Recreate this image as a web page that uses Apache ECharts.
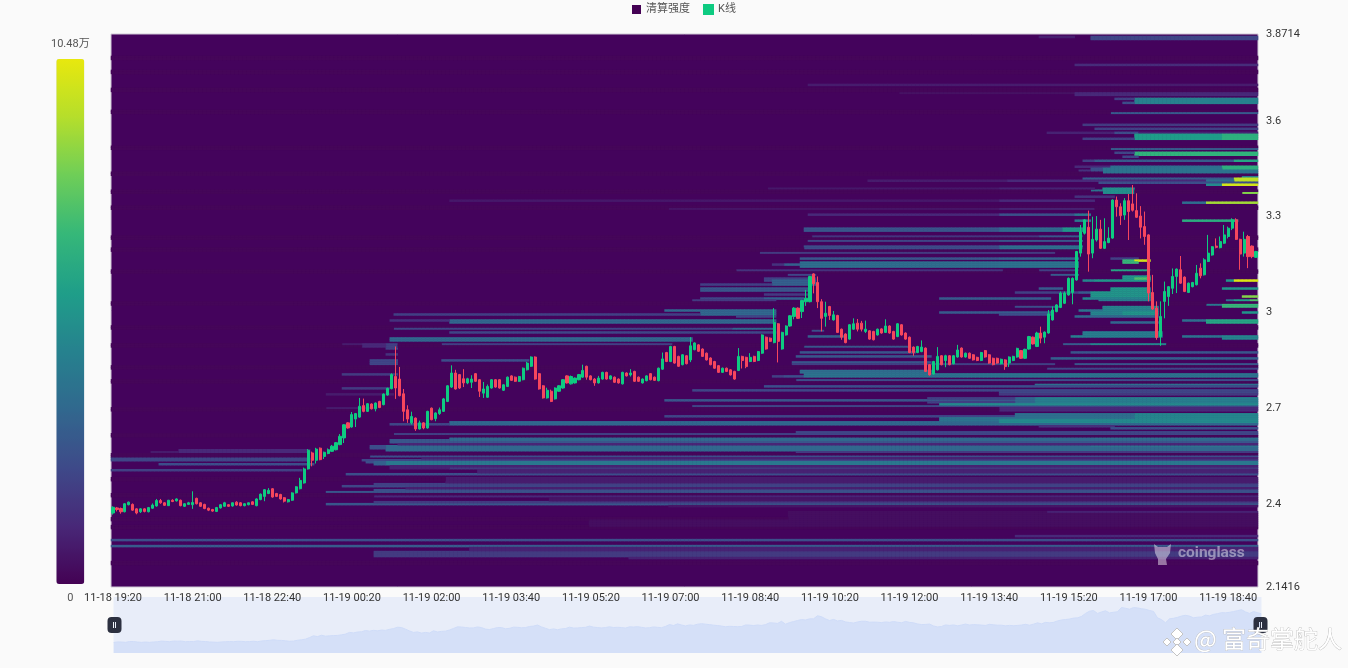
<!DOCTYPE html>
<html><head><meta charset="utf-8">
<style>html,body{margin:0;padding:0;background:#fafafa}#c{width:1348px;height:668px}</style>
<script src="https://cdn.jsdelivr.net/npm/echarts@6/dist/echarts.min.js"></script>
</head><body><div id="c"></div>
<script>
const PRICE_MIN = 2.1416, PRICE_MAX = 3.8714, PRICE_STEP = 0.00625, MAX_VALUE = 104800;
const priceLabels = [2.1416, 2.4, 2.7, 3, 3.3, 3.6, 3.8714];
const viridis = ['#440154','#482878','#3e4a89','#31688e','#26828e','#1f9e89','#35b779','#6ece58','#b5de2b','#e8e80e'];
const START = {month:11, day:18, hour:19, minute:20}, CANDLE_MINUTES = 5;

// [open, close, low, high]
const candles = [
[2.373,2.391,2.368,2.394],[2.389,2.384,2.378,2.392],[2.387,2.377,2.371,2.390],[2.377,2.402,2.375,2.404],[2.399,2.407,2.397,2.409],[2.400,2.382,2.380,2.403],[2.386,2.373,2.369,2.388],[2.377,2.386,2.373,2.388],[2.386,2.378,2.375,2.388],[2.377,2.390,2.375,2.392],
[2.388,2.398,2.386,2.403],[2.395,2.412,2.393,2.417],[2.412,2.405,2.402,2.417],[2.405,2.397,2.395,2.407],[2.396,2.413,2.395,2.414],[2.413,2.409,2.407,2.416],[2.411,2.417,2.409,2.419],[2.413,2.396,2.394,2.415],[2.394,2.402,2.392,2.404],[2.400,2.405,2.398,2.408],
[2.399,2.406,2.386,2.441],[2.419,2.402,2.400,2.421],[2.405,2.394,2.392,2.407],[2.400,2.387,2.385,2.402],[2.388,2.382,2.379,2.390],[2.384,2.379,2.377,2.386],[2.378,2.390,2.376,2.392],[2.389,2.399,2.387,2.401],[2.394,2.405,2.392,2.408],[2.399,2.394,2.392,2.401],
[2.395,2.405,2.393,2.406],[2.407,2.398,2.396,2.410],[2.405,2.396,2.394,2.407],[2.396,2.402,2.394,2.404],[2.399,2.405,2.397,2.406],[2.408,2.400,2.398,2.410],[2.396,2.417,2.394,2.419],[2.415,2.432,2.413,2.434],[2.425,2.446,2.410,2.448],[2.434,2.444,2.432,2.451],
[2.449,2.423,2.421,2.451],[2.434,2.425,2.423,2.436],[2.431,2.417,2.415,2.433],[2.421,2.410,2.406,2.423],[2.408,2.415,2.406,2.417],[2.413,2.436,2.411,2.438],[2.436,2.455,2.434,2.457],[2.449,2.475,2.447,2.483],[2.467,2.511,2.465,2.515],[2.511,2.569,2.509,2.573],
[2.561,2.538,2.519,2.565],[2.538,2.573,2.528,2.577],[2.576,2.540,2.538,2.578],[2.550,2.563,2.542,2.565],[2.559,2.571,2.557,2.575],[2.566,2.582,2.564,2.586],[2.571,2.593,2.569,2.595],[2.587,2.613,2.585,2.620],[2.608,2.649,2.592,2.651],[2.655,2.639,2.637,2.657],
[2.642,2.681,2.640,2.689],[2.667,2.684,2.642,2.686],[2.673,2.707,2.671,2.733],[2.709,2.691,2.688,2.731],[2.691,2.715,2.689,2.717],[2.714,2.699,2.697,2.716],[2.699,2.717,2.691,2.719],[2.722,2.703,2.701,2.724],[2.712,2.745,2.710,2.747],[2.742,2.763,2.740,2.765],
[2.762,2.806,2.760,2.810],[2.800,2.764,2.730,2.894],[2.792,2.740,2.738,2.830],[2.746,2.691,2.660,2.761],[2.696,2.667,2.655,2.710],[2.655,2.675,2.650,2.690],[2.670,2.636,2.630,2.672],[2.636,2.655,2.634,2.662],[2.655,2.639,2.635,2.657],[2.639,2.691,2.637,2.693],
[2.701,2.665,2.663,2.703],[2.668,2.686,2.660,2.688],[2.684,2.696,2.680,2.703],[2.691,2.730,2.689,2.733],[2.722,2.771,2.720,2.773],[2.767,2.811,2.764,2.835],[2.811,2.761,2.759,2.821],[2.806,2.764,2.761,2.808],[2.793,2.780,2.767,2.823],[2.780,2.793,2.776,2.796],
[2.782,2.792,2.764,2.804],[2.809,2.785,2.783,2.811],[2.790,2.754,2.736,2.792],[2.748,2.761,2.733,2.783],[2.735,2.769,2.733,2.775],[2.764,2.790,2.762,2.792],[2.790,2.767,2.765,2.792],[2.790,2.764,2.762,2.792],[2.757,2.774,2.755,2.776],[2.769,2.798,2.767,2.800],
[2.802,2.788,2.786,2.804],[2.798,2.785,2.783,2.800],[2.785,2.800,2.783,2.802],[2.790,2.826,2.788,2.828],[2.821,2.842,2.819,2.846],[2.832,2.861,2.830,2.863],[2.861,2.792,2.790,2.863],[2.809,2.761,2.759,2.811],[2.771,2.733,2.731,2.773],[2.733,2.757,2.731,2.765],
[2.754,2.722,2.720,2.759],[2.730,2.764,2.728,2.766],[2.754,2.771,2.752,2.773],[2.764,2.790,2.762,2.792],[2.802,2.780,2.778,2.804],[2.777,2.800,2.775,2.803],[2.780,2.795,2.778,2.797],[2.790,2.806,2.788,2.808],[2.798,2.819,2.796,2.837],[2.832,2.798,2.790,2.834],
[2.802,2.790,2.788,2.804],[2.792,2.780,2.771,2.795],[2.780,2.795,2.778,2.802],[2.792,2.813,2.790,2.815],[2.813,2.792,2.790,2.815],[2.792,2.802,2.790,2.804],[2.798,2.782,2.780,2.800],[2.792,2.780,2.778,2.794],[2.777,2.813,2.775,2.815],[2.811,2.802,2.800,2.813],
[2.805,2.811,2.800,2.823],[2.816,2.785,2.783,2.818],[2.798,2.785,2.783,2.800],[2.780,2.792,2.778,2.794],[2.787,2.802,2.785,2.804],[2.809,2.790,2.788,2.811],[2.798,2.788,2.786,2.800],[2.787,2.826,2.785,2.828],[2.823,2.855,2.821,2.875],[2.875,2.847,2.845,2.877],
[2.847,2.894,2.845,2.896],[2.894,2.842,2.840,2.896],[2.863,2.832,2.830,2.865],[2.837,2.868,2.835,2.870],[2.865,2.840,2.838,2.867],[2.852,2.896,2.845,2.923],[2.884,2.905,2.882,2.907],[2.899,2.879,2.877,2.901],[2.886,2.863,2.861,2.888],[2.873,2.852,2.850,2.875],
[2.858,2.837,2.835,2.860],[2.847,2.826,2.824,2.849],[2.834,2.813,2.811,2.836],[2.813,2.826,2.811,2.828],[2.826,2.816,2.814,2.828],[2.821,2.805,2.803,2.823],[2.816,2.792,2.790,2.818],[2.819,2.863,2.817,2.889],[2.863,2.850,2.825,2.865],[2.860,2.831,2.826,2.862],
[2.847,2.860,2.845,2.873],[2.863,2.847,2.845,2.865],[2.850,2.878,2.848,2.880],[2.873,2.930,2.871,2.932],[2.923,2.886,2.884,2.925],[2.920,2.910,2.908,2.922],[2.906,2.969,2.904,3.014],[2.965,2.910,2.844,2.967],[2.886,2.938,2.884,2.940],[2.930,2.958,2.928,2.960],
[2.958,2.990,2.956,2.992],[2.988,3.014,2.979,3.017],[3.014,2.982,2.980,3.016],[3.003,3.038,2.983,3.040],[3.034,3.045,3.021,3.071],[3.034,3.113,3.032,3.115],[3.121,3.090,3.060,3.123],[3.094,3.034,3.014,3.113],[3.034,2.982,2.941,3.042],[2.988,2.998,2.956,3.034],
[3.019,2.991,2.977,3.021],[2.977,2.993,2.975,3.005],[2.991,2.938,2.936,2.993],[2.948,2.923,2.915,2.950],[2.933,2.906,2.904,2.935],[2.917,2.962,2.915,2.964],[2.948,2.965,2.946,2.982],[2.967,2.948,2.941,2.980],[2.967,2.948,2.941,2.974],[2.941,2.948,2.936,2.975],
[2.943,2.917,2.915,2.945],[2.941,2.915,2.913,2.943],[2.930,2.948,2.928,2.950],[2.949,2.936,2.934,2.951],[2.938,2.958,2.936,2.979],[2.958,2.936,2.934,2.960],[2.941,2.917,2.915,2.943],[2.925,2.965,2.923,2.967],[2.962,2.930,2.928,2.964],[2.936,2.917,2.915,2.938],
[2.923,2.875,2.873,2.925],[2.892,2.875,2.865,2.894],[2.875,2.894,2.873,2.896],[2.878,2.892,2.876,2.913],[2.889,2.816,2.814,2.891],[2.837,2.805,2.803,2.839],[2.808,2.847,2.806,2.849],[2.821,2.863,2.819,2.892],[2.865,2.837,2.835,2.867],[2.850,2.865,2.829,2.868],
[2.865,2.837,2.835,2.867],[2.840,2.865,2.838,2.867],[2.861,2.883,2.859,2.899],[2.889,2.861,2.859,2.891],[2.861,2.873,2.859,2.875],[2.873,2.857,2.855,2.875],[2.868,2.852,2.850,2.870],[2.860,2.850,2.848,2.862],[2.850,2.875,2.848,2.877],[2.881,2.861,2.859,2.883],
[2.868,2.842,2.840,2.870],[2.857,2.837,2.835,2.859],[2.857,2.842,2.840,2.859],[2.840,2.854,2.838,2.856],[2.852,2.831,2.821,2.854],[2.842,2.861,2.830,2.863],[2.850,2.863,2.848,2.865],[2.861,2.888,2.859,2.890],[2.881,2.857,2.855,2.883],[2.857,2.885,2.855,2.887],
[2.886,2.925,2.884,2.927],[2.923,2.902,2.900,2.925],[2.894,2.936,2.892,2.940],[2.936,2.920,2.904,2.956],[2.923,2.939,2.904,2.941],[2.936,2.996,2.934,3.008],[2.977,3.008,2.975,3.019],[3.003,3.024,3.001,3.026],[3.016,3.061,3.014,3.066],[3.029,3.061,3.027,3.066],
[3.055,3.107,3.053,3.110],[3.063,3.107,3.026,3.110],[3.102,3.191,3.100,3.193],[3.186,3.253,3.175,3.274],[3.248,3.290,3.244,3.292],[3.267,3.183,3.128,3.319],[3.186,3.229,3.170,3.300],[3.227,3.261,3.222,3.302],[3.261,3.201,3.199,3.290],[3.201,3.222,3.199,3.295],
[3.219,3.233,3.217,3.267],[3.233,3.352,3.231,3.354],[3.352,3.331,3.300,3.363],[3.331,3.303,3.274,3.342],[3.305,3.350,3.290,3.358],[3.350,3.316,3.227,3.371],[3.340,3.320,3.316,3.399],[3.319,3.298,3.296,3.373],[3.302,3.267,3.232,3.333],[3.269,3.238,3.212,3.316],
[3.243,3.061,3.035,3.245],[3.063,3.011,3.008,3.118],[3.014,2.922,2.915,3.035],[2.925,2.988,2.896,3.035],[3.035,3.066,2.982,3.097],[3.050,3.081,3.021,3.083],[3.076,3.113,3.058,3.138],[3.113,3.136,3.061,3.138],[3.134,3.092,3.090,3.177],[3.111,3.066,3.064,3.113],
[3.063,3.092,3.061,3.094],[3.081,3.094,3.079,3.096],[3.087,3.123,3.085,3.149],[3.139,3.115,3.107,3.154],[3.118,3.165,3.116,3.170],[3.160,3.186,3.158,3.243],[3.180,3.206,3.178,3.208],[3.208,3.204,3.201,3.232],[3.203,3.222,3.201,3.238],[3.217,3.243,3.215,3.274],
[3.238,3.264,3.232,3.269],[3.264,3.290,3.258,3.295],[3.290,3.229,3.227,3.295],[3.229,3.183,3.134,3.231],[3.186,3.229,3.175,3.253],[3.238,3.175,3.139,3.243],[3.208,3.175,3.170,3.210],[3.173,3.191,3.171,3.193]
];

// Liquidation bands: [price, fromCandle, toCandle, value, priceLevelsDown]
const upperBands = [
[3.865,233,241,9000],[3.865,246,287,22000,2],[3.775,242,287,13000],[3.715,175,287,8000],[3.690,198,242,5000],[3.690,242,287,12000,2],
[3.671,257,287,46000,3],[3.671,252,257,20000],[3.659,254,257,25000],[3.628,251,287,30000],[3.590,244,287,18000],[3.578,247,287,20000],
[3.562,235,287,10000],[3.559,257,287,58000,3],[3.559,279,287,66000,3],[3.562,252,257,24000],[3.546,244,257,20000],[3.515,251,287,30000],
[3.503,257,287,68000,2],[3.503,252,257,22000],[3.490,254,257,22000],[3.478,244,287,20000],[3.478,282,287,62000],[3.474,247,287,30000],
[3.460,242,287,12000],[3.460,251,279,38000],[3.456,279,287,66000,2],[3.449,249,287,40000,3],[3.449,246,249,25000,2],[3.443,243,249,15000],
[3.429,284,287,45000],[3.421,244,287,30000],[3.421,282,287,95000,2],[3.413,225,287,12000],[3.413,275,287,38000],[3.413,190,225,8000],[3.406,248,287,25000],
[3.399,275,279,50000],[3.399,279,287,100000],[3.390,249,256,52000,3],[3.384,246,249,40000],[3.387,223,246,10000],[3.387,165,223,7000],[3.374,284,287,85000],
[3.362,242,251,15000],[3.350,223,246,12000],[3.350,85,223,7000],[3.344,269,275,38000],[3.344,275,287,90000],[3.328,223,246,10000],[3.328,140,223,6000],[3.306,223,245,26000],
[3.306,175,223,12000],[3.306,242,245,42000],[3.287,242,245,42000],[3.287,269,282,65000]
];
const middleBands = [
[3.262,223,243,36000,2],[3.262,174,223,28000,2],[3.262,239,243,55000,2],[3.240,233,243,28000],[3.240,176,233,16000],[3.228,223,243,28000],[3.228,175,223,22000],[3.206,223,243,38000,2],[3.206,174,223,24000,2],[3.188,163,236,18000],
[3.171,173,242,28000],[3.171,223,242,32000],[3.159,223,242,40000,3],[3.159,173,242,38000,3],[3.153,169,173,32000],[3.153,166,169,15000],
[3.134,157,223,15000],[3.134,233,242,20000],[3.118,170,176,22000],[3.118,236,242,30000],[3.109,164,176,20000],[3.098,164,176,22000],
[3.103,166,176,32000,3],[3.090,148,166,20000],[3.074,148,174,28000,2],[3.059,164,174,18000],[3.043,148,164,22000],[3.043,164,173,32000],
[3.047,208,235,30000],[3.065,227,242,20000],[3.018,227,237,25000],[2.999,208,235,30000],[3.009,148,166,35000,3],[2.991,157,166,22000],
[2.978,148,166,35000],[2.953,156,166,35000],[2.937,148,166,22000],[2.946,176,178,25000],[2.925,175,183,32000],[2.893,174,200,28000],
[2.875,173,201,28000],[2.862,172,205,28000],[2.847,171,205,28000],[2.837,171,236,20000],[2.821,173,205,38000,2],
[3.171,251,257,20000],[3.166,254,257,70000,2],[3.166,257,260,100000],[3.134,251,260,62000],[3.103,244,260,48000],[3.112,254,260,55000,2],
[3.110,257,260,75000],[3.098,247,260,55000],[3.078,251,260,55000,2],[3.078,233,238,30000],[3.065,243,247,30000],[3.065,246,260,55000,3],
[3.046,244,260,48000],[3.040,248,260,45000],[3.018,249,262,48000,3],[3.009,243,249,40000],[3.003,246,262,48000,2],[3.003,254,262,55000,2],
[2.996,223,235,25000],[2.990,242,262,35000],[2.971,251,262,35000],[2.940,244,263,45000,3],[2.925,241,263,45000],[2.903,239,246,30000],
[2.903,246,264,48000],[2.875,241,287,28000],[2.856,236,287,32000],[2.837,242,287,28000],[2.824,235,287,22000],[2.806,236,287,40000,2],
[2.806,223,236,35000,2],[2.787,233,287,25000],[2.774,232,287,38000],
[3.098,280,282,55000],[3.098,282,287,102000],[3.078,279,287,55000],[3.053,284,287,85000],[3.040,280,282,40000],[3.040,282,286,60000],
[3.040,286,287,75000],[3.028,275,279,42000],[3.024,279,287,70000,2],[3.003,284,287,55000],[2.978,269,275,38000],[2.978,275,287,62000,2],
[2.925,269,279,40000],[2.925,279,287,48000,2],
[2.800,166,169,20000],[2.800,169,174,25000],[2.806,174,287,40000,2],[2.787,172,287,25000],[2.769,164,287,25000],
[3.040,146,166,18000],[3.009,139,166,35000],[2.996,71,166,20000],[2.978,85,166,35000,2],[2.978,70,85,15000],[2.949,71,166,22000],
[2.937,85,166,22000],[2.921,70,145,35000,2],[2.899,83,140,20000],[2.849,83,104,25000]
];
const lowerBands = [
[2.757,146,287,22000],[2.725,139,287,28000],[2.707,146,287,22000],[2.675,139,287,22000],[2.659,85,287,35000,2],[2.621,71,287,20000],[2.609,85,287,35000,2],
[2.899,69,71,20000,3],[2.899,63,69,12000,2],[2.899,58,63,8000],[2.868,69,71,15000],[2.853,65,71,22000,3],[2.806,58,71,18000],[2.765,58,69,18000],
[2.743,54,70,8000],[2.703,54,65,8000],[2.653,70,287,22000],[2.599,70,287,28000,2],[2.584,69,287,35000,3],[2.580,65,69,25000,2],[2.571,17,49,12000,2],
[2.565,10,49,8000],[2.550,65,287,25000],[2.546,0,49,22000,2],[2.540,63,287,22000],[2.531,69,287,42000,2],[2.531,64,69,25000],[2.525,12,50,25000],
[2.507,0,47,20000],[2.496,59,287,25000],[2.457,58,287,22000],[2.441,54,287,28000],[2.399,54,287,28000],
[2.753,223,287,22000],[2.743,223,287,18000],[2.734,232,287,45000,3],[2.734,227,232,35000,3],[2.734,205,227,20000,3],[2.712,208,287,50000],
[2.700,223,287,12000,2],[2.681,257,287,48000,4],[2.681,227,257,38000,2],[2.671,208,287,40000,2],[2.663,223,287,50000,2],[2.644,233,251,15000],
[2.640,251,287,25000],[2.624,172,287,22000,2],[2.609,247,287,38000],[2.596,200,287,25000],[2.582,246,287,40000],[2.565,172,287,18000],
[2.550,172,287,12000],[2.534,66,287,32000,2],[2.515,85,287,18000],[2.493,66,287,22000],[2.462,66,287,20000],[2.446,66,287,25000],
[2.425,66,287,12000],[2.406,66,287,18000],[2.378,235,287,10000],[2.300,227,287,12000],[2.288,0,287,25000],[2.271,0,287,30000],[2.249,66,287,18000,3],
[2.603,72,287,11000,4],[2.590,82,287,11000,4],[2.546,78,287,10000,2],[2.521,70,287,10000,2],[2.509,92,287,10000,2],[2.484,84,287,8000,3],[2.456,74,287,9000,2],[2.443,98,287,9000,2],
[2.422,110,287,6000,3],[2.410,140,287,6000,3],[2.378,170,287,4000,6],[2.352,120,287,4000,4],[2.265,90,287,10000,3],[2.245,130,287,10000,3]
];
const faintRows = [3.80,3.76,3.70,3.63,3.52,3.44,3.38,3.33,3.24,3.20,3.13,3.03,2.96,2.90,2.83,2.79,2.70,2.62,2.56,2.48,2.43,2.36,2.33,2.22];
const FAINT_VALUE = 1500;

const pad = n => String(n).padStart(2, '0');
const categories = candles.map((_, i) => {
  const t = new Date(2024, START.month - 1, START.day, START.hour, START.minute + i * CANDLE_MINUTES);
  return pad(t.getMonth() + 1) + '-' + pad(t.getDate()) + ' ' + pad(t.getHours()) + ':' + pad(t.getMinutes());
});
const levelCount = Math.ceil((PRICE_MAX - PRICE_MIN) / PRICE_STEP);
const levels = Array.from({length: levelCount}, (_, i) => (PRICE_MIN + i * PRICE_STEP).toFixed(4));
const cells = new Map();
const put = (x, y, v) => { const k = x + '_' + y; if (!(cells.get(k) >= v)) cells.set(k, v); };
const allBands = upperBands.concat(middleBands, lowerBands);
faintRows.forEach(p => allBands.push([p, 0, 287, FAINT_VALUE, 2]));
allBands.forEach(([p, from, to, v, rows = 1]) => {
  const top = Math.floor((p - PRICE_MIN) / PRICE_STEP);
  for (let r = 0; r < rows; r++) for (let x = from; x <= to; x++) if (top - r >= 0 && top - r < levelCount) put(x, top - r, v);
});
const heat = [];
cells.forEach((v, k) => { const [x, y] = k.split('_').map(Number); heat.push([x, y, v]); });

const FONT = 'Roboto, "Noto Sans CJK SC", sans-serif';
const WM = {fill: '#fff', stroke: '#c4c4c4', lineWidth: 1};
const chart = echarts.init(document.getElementById('c'), null, {renderer: 'canvas'});
chart.setOption({
  animation: false,
  backgroundColor: '#fafafa',
  textStyle: {fontFamily: FONT},
  legend: {
    show: true, left: 627, top: -1, icon: 'rect', itemWidth: 9, itemHeight: 9, itemGap: 13,
    textStyle: {color: '#555', fontSize: 11, fontFamily: FONT},
    data: [{name: '清算强度', itemStyle: {color: '#440154'}}, {name: 'K线', itemStyle: {color: '#0ecb81'}}]
  },
  grid: {left: 111, right: 90, top: 34, bottom: 81, show: true, backgroundColor: '#44035c', borderColor: '#cfc8d6', borderWidth: 1},
  xAxis: {
    type: 'category', data: categories, boundaryGap: true, z: 8,
    axisLine: {show: false}, axisTick: {show: false}, splitLine: {show: false},
    axisLabel: {interval: 19, color: '#333', fontSize: 11, margin: 6, fontFamily: FONT, hideOverlap: false}
  },
  yAxis: [
    {type: 'category', data: levels, show: false, boundaryGap: true},
    {type: 'value', position: 'right', min: PRICE_MIN, max: PRICE_MAX, scale: true,
     axisLine: {show: false}, axisTick: {show: false}, splitLine: {show: false},
     axisLabel: {customValues: priceLabels, color: '#333', fontSize: 11, margin: 8, fontFamily: FONT, formatter: v => String(v)}}
  ],
  visualMap: {
    type: 'continuous', seriesIndex: 0, min: 0, max: MAX_VALUE, calculable: false, left: 36, top: 24,
    itemWidth: 28, itemHeight: 525, text: ['10.48万', '0'], textGap: 9,
    textStyle: {color: '#555', fontSize: 11, fontFamily: FONT}, inRange: {color: viridis}
  },
  dataZoom: [{
    type: 'slider', xAxisIndex: 0, left: 111, right: 89, top: 597, height: 56, start: 0, end: 100,
    showDetail: false, brushSelect: false, moveHandleSize: 0, borderColor: 'transparent',
    backgroundColor: '#e8edf9', fillerColor: 'rgba(232,237,249,0)',
    dataBackground: {lineStyle: {color: '#cfdcf8', width: 1}, areaStyle: {color: '#d5e0f8', opacity: 1}},
    selectedDataBackground: {lineStyle: {color: '#cfdcf8', width: 1}, areaStyle: {color: '#d5e0f8', opacity: 1}},
    handleIcon: 'path://M4,0H10A4,4 0 0 1 14,4V12A4,4 0 0 1 10,16H4A4,4 0 0 1 0,12V4A4,4 0 0 1 4,0ZM5.5,5V11H6.5V5ZM7.5,5V11H8.5V5Z',
    handleSize: 16, handleStyle: {color: '#2c3040', borderWidth: 0}
  }],
  series: [
    {name: '清算强度', type: 'heatmap', xAxisIndex: 0, yAxisIndex: 0, data: heat, progressive: 0,
     itemStyle: {color: '#440154'}, emphasis: {disabled: true}},
    {name: 'K线', type: 'candlestick', xAxisIndex: 0, yAxisIndex: 1, data: candles, barWidth: 2.6, z: 5,
     itemStyle: {color: '#0ecb81', color0: '#f6465d', borderColor: '#0ecb81', borderColor0: '#f6465d', borderWidth: 1}}
  ],
  graphic: [
    {type: 'polygon', z: 100, silent: true, shape: {points: [[1154,544],[1158,547],[1167,547],[1171,544],[1170,553],[1166,559],[1167,565],[1158,565],[1158,559],[1155,553]]}, style: {fill: 'rgba(255,255,255,0.45)'}},
    {type: 'text', z: 100, silent: true, x: 1178, y: 545, style: {text: 'coinglass', fill: 'rgba(255,255,255,0.45)', font: '700 15.5px Roboto'}},
    {type: 'polygon', z: 100, silent: true, shape: {points: [[1177,628],[1183,634],[1177,640],[1171,634]]}, style: WM},
    {type: 'polygon', z: 100, silent: true, shape: {points: [[1167,638],[1171,642],[1167,646],[1163,642]]}, style: WM},
    {type: 'polygon', z: 100, silent: true, shape: {points: [[1187,638],[1191,642],[1187,646],[1183,642]]}, style: WM},
    {type: 'polygon', z: 100, silent: true, shape: {points: [[1177,638],[1181,642],[1177,646],[1173,642]]}, style: WM},
    {type: 'polygon', z: 100, silent: true, shape: {points: [[1177,644],[1183,650],[1177,656],[1171,650]]}, style: WM},
    {type: 'text', z: 100, silent: true, x: 1194, y: 627, style: {text: '@ 富奇掌舵人', fill: '#fff', stroke: '#b8b8b8', lineWidth: 0.7, font: '24px "Noto Sans CJK SC"'}}
  ]
});
</script></body></html>
